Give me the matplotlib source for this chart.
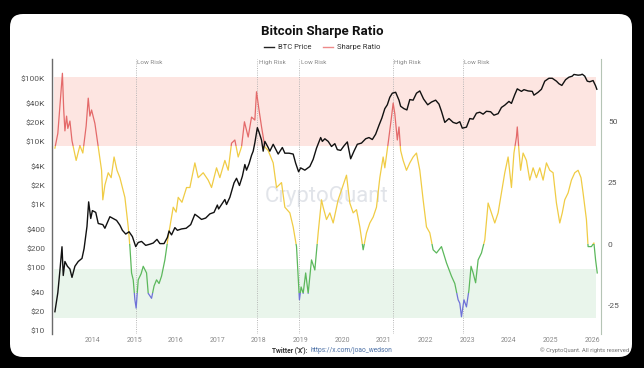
import matplotlib
matplotlib.use("Agg")
import matplotlib.pyplot as plt
from matplotlib.patches import FancyBboxPatch, Rectangle
from matplotlib.lines import Line2D
from matplotlib.text import Annotation

# ---------------- data (decimal years) ----------------
price_t = [2013.10, 2013.17, 2013.22, 2013.27, 2013.30, 2013.34, 2013.40, 2013.46, 2013.51, 2013.58,
           2013.66, 2013.75, 2013.80, 2013.87, 2013.91, 2013.96, 2014.00, 2014.08, 2014.14, 2014.25,
           2014.30, 2014.42, 2014.50, 2014.58, 2014.66, 2014.72, 2014.80, 2014.88, 2014.96, 2015.04,
           2015.10, 2015.18, 2015.28, 2015.38, 2015.46, 2015.55, 2015.62, 2015.72, 2015.80, 2015.84,
           2015.90, 2015.98, 2016.04, 2016.14, 2016.25, 2016.36, 2016.46, 2016.54, 2016.62, 2016.72,
           2016.82, 2016.92, 2017.00, 2017.03, 2017.10, 2017.18, 2017.22, 2017.30, 2017.40, 2017.46,
           2017.53, 2017.60, 2017.66, 2017.70, 2017.76, 2017.82, 2017.86, 2017.90, 2017.96, 2018.00,
           2018.06, 2018.10, 2018.14, 2018.22, 2018.26, 2018.34, 2018.40, 2018.46, 2018.56, 2018.62,
           2018.72, 2018.82, 2018.88, 2018.95, 2019.00, 2019.10, 2019.22, 2019.30, 2019.38, 2019.48,
           2019.52, 2019.58, 2019.66, 2019.74, 2019.82, 2019.88, 2019.96, 2020.04, 2020.12, 2020.20,
           2020.28, 2020.36, 2020.46, 2020.56, 2020.64, 2020.72, 2020.80, 2020.88, 2020.95, 2021.02,
           2021.08, 2021.14, 2021.20, 2021.28, 2021.36, 2021.40, 2021.48, 2021.55, 2021.62, 2021.70,
           2021.78, 2021.86, 2021.95, 2022.05, 2022.14, 2022.24, 2022.32, 2022.38, 2022.46, 2022.56,
           2022.66, 2022.74, 2022.82, 2022.88, 2022.98, 2023.06, 2023.14, 2023.22, 2023.30, 2023.38,
           2023.46, 2023.56, 2023.64, 2023.74, 2023.82, 2023.90, 2024.00, 2024.06, 2024.14, 2024.20,
           2024.30, 2024.36, 2024.46, 2024.56, 2024.60, 2024.70, 2024.78, 2024.86, 2024.96, 2025.04,
           2025.14, 2025.20, 2025.27, 2025.36, 2025.44, 2025.52, 2025.56, 2025.66, 2025.72, 2025.76,
           2025.82, 2025.88, 2025.94, 2026.02, 2026.08, 2026.11]
price_v = [20, 40, 90, 214, 75, 125, 105, 95, 70, 105,
           125, 140, 200, 450, 1100, 600, 800, 750, 500, 480,
           420, 640, 600, 560, 470, 390, 340, 370, 310, 215,
           250, 260, 225, 235, 245, 280, 240, 240, 300, 380,
           330, 430, 390, 410, 420, 480, 700, 640, 580, 610,
           710, 750, 980, 850, 1000, 1200, 1000, 1300, 2200, 2600,
           2000, 2800, 4300, 3500, 4400, 6000, 7000, 9500, 16500, 14000,
           10500, 7000, 10000, 8000, 7000, 9000, 7500, 6300, 8000, 6500,
           6500, 6300, 4500, 3300, 3800, 3500, 4000, 5200, 7800, 11500,
           10000, 11000, 10000, 8300, 9200, 7400, 7200, 8500, 9800, 5300,
           7000, 9000, 9400, 11000, 11500, 10700, 13000, 18000, 23500, 33000,
           38000, 50000, 58000, 60000, 45000, 36000, 33000, 31500, 46000, 45000,
           58000, 63000, 47000, 38000, 42000, 45000, 39000, 30000, 20000, 23000,
           20000, 19200, 20500, 16200, 16800, 23000, 22500, 28000, 29000, 27000,
           30000, 29500, 26000, 27500, 34500, 37500, 43000, 40000, 55000, 68000,
           62000, 66000, 63000, 62000, 54000, 60000, 67000, 90000, 100000, 100000,
           90000, 82000, 77000, 95000, 104000, 108000, 115000, 112000, 113000, 116000,
           108000, 90000, 88000, 92000, 76000, 67000]

sharpe_t = [2013.10, 2013.17, 2013.23, 2013.28, 2013.31, 2013.34, 2013.38, 2013.41, 2013.46, 2013.51,
            2013.61, 2013.70, 2013.77, 2013.85, 2013.90, 2013.94, 2013.98, 2014.06, 2014.14, 2014.22,
            2014.25, 2014.30, 2014.38, 2014.45, 2014.52, 2014.59, 2014.66, 2014.78, 2014.86, 2014.90,
            2014.94, 2014.98, 2015.02, 2015.05, 2015.10, 2015.17, 2015.22, 2015.30, 2015.34, 2015.42,
            2015.48, 2015.54, 2015.60, 2015.66, 2015.74, 2015.82, 2015.89, 2015.94, 2016.01, 2016.06,
            2016.15, 2016.26, 2016.34, 2016.40, 2016.46, 2016.54, 2016.66, 2016.78, 2016.86, 2016.98,
            2017.06, 2017.18, 2017.26, 2017.34, 2017.42, 2017.50, 2017.58, 2017.65, 2017.74, 2017.82,
            2017.90, 2017.94, 2018.00, 2018.06, 2018.14, 2018.22, 2018.34, 2018.42, 2018.54, 2018.62,
            2018.74, 2018.82, 2018.90, 2018.93, 2018.97, 2019.01, 2019.06, 2019.12, 2019.18, 2019.26,
            2019.34, 2019.42, 2019.50, 2019.54, 2019.62, 2019.70, 2019.78, 2019.90, 2019.98, 2020.10,
            2020.18, 2020.26, 2020.34, 2020.42, 2020.50, 2020.58, 2020.66, 2020.74, 2020.82, 2020.90,
            2020.98, 2021.02, 2021.10, 2021.18, 2021.22, 2021.26, 2021.32, 2021.36, 2021.40, 2021.46,
            2021.54, 2021.62, 2021.70, 2021.78, 2021.86, 2021.94, 2022.02, 2022.10, 2022.18, 2022.26,
            2022.38, 2022.50, 2022.62, 2022.70, 2022.78, 2022.82, 2022.86, 2022.92, 2022.98, 2023.04,
            2023.09, 2023.14, 2023.20, 2023.26, 2023.34, 2023.42, 2023.50, 2023.58, 2023.66, 2023.74,
            2023.82, 2023.90, 2023.98, 2024.06, 2024.12, 2024.18, 2024.20, 2024.24, 2024.28, 2024.34,
            2024.42, 2024.50, 2024.58, 2024.66, 2024.74, 2024.82, 2024.90, 2024.98, 2025.06, 2025.14,
            2025.22, 2025.28, 2025.34, 2025.42, 2025.50, 2025.58, 2025.66, 2025.73, 2025.78, 2025.86,
            2025.90, 2025.98, 2026.04, 2026.08, 2026.12]
sharpe_v = [39, 45, 58, 69.4, 55, 46, 52, 47, 50, 42,
            34, 40, 37, 48, 59.3, 52, 54.5, 49, 39.5, 30,
            18, 24, 29, 27, 35.4, 30, 27, 19, 7, -1,
            -11.7, -14.5, -22.6, -26, -14.5, -12, -9, -11.7, -20, -22,
            -17, -14.5, -16, -13, -6.4, 3, 10, 15, 13, 19,
            17, 23, 23, 28, 33, 27, 29, 26, 23, 31,
            27, 34, 30, 41, 42.3, 35.4, 39.5, 49.7, 43.5, 51.6,
            50.4, 61.9, 54.5, 47.7, 39.5, 38, 33, 23, 25, 15,
            12.7, 7, -1, -10.5, -22.6, -17.4, -20, -11.7, -20, -6.4,
            -10.5, 4.6, 18, 15, 10, 12.7, 8.6, 18, 22, 28,
            16.7, 12.7, 14, 7, -2.3, 4.6, 8.6, 11, 15, 27,
            35.4, 31, 41, 51.6, 57.3, 53, 42.3, 47.6, 38, 34,
            30, 33, 35.4, 37, 30, 18, 7, 4.6, -2.3, -3.6,
            -1, -7.6, -13, -16, -22.6, -24, -29.5, -22.6, -25.5, -18.6,
            -9, -11.7, -15.7, -6.4, -3.6, 1.7, 16.7, 12.7, 8.6, 12.7,
            20.8, 29, 35.4, 23, 37, 43.5, 47.6, 38, 30, 37,
            34, 26, 31, 27, 31, 26, 33, 30, 29, 16.7,
            8.6, 12.7, 18, 20.8, 26, 29, 30, 27, 20.8, 10,
            -1, -1, 0.5, -6.4, -11.7]

year_ticks = list(range(2014, 2027))
price_ticks = [10, 20, 40, 100, 200, 400, 1000, 2000, 4000, 10000, 20000, 40000, 100000]
price_tick_labels = ['$10', '$20', '$40', '$100', '$200', '$400', '$1K', '$2K', '$4K',
                     '$10K', '$20K', '$40K', '$100K']
sharpe_ticks = [-25, 0, 25, 50]
risk_t = [2015.04, 2017.96, 2018.97, 2021.22, 2022.90]
risk_labels = ['Low Risk', 'High Risk', 'Low Risk', 'High Risk', 'Low Risk']
high_band = (40, 68)
low_band = (-30, -10)
zone_limits = [(40, 200, '#e46a6a'), (0, 40, '#f0cc45'), (-20, 0, '#5cb85c'), (-200, -20, '#6f72d8')]

# ---------------- figure ----------------
W, H = 644, 368
fig = plt.figure(figsize=(W / 100, H / 100), dpi=100, facecolor='black')
card = FancyBboxPatch((10 / 100, 11 / 100), 622 / 100, 343 / 100,
                      boxstyle='round,pad=0,rounding_size=0.13',
                      transform=fig.dpi_scale_trans, facecolor='white', edgecolor='none',
                      zorder=-5)
fig.patches.append(card)

L, R, T, B = 52, 601, 59, 334
ax_s = fig.add_axes([L / W, (H - B) / H, (R - L) / W, (B - T) / H])
ax_s.set_facecolor('none')
ax_p = ax_s.twinx()
ax_p.set_facecolor('none')

x0, x1 = 2013.03, 2026.21
ax_s.set_xlim(x0, x1)
ax_s.set_ylim(-36.5, 75.2)
ax_p.set_yscale('log')
ax_p.set_ylim(8.87, 202000)

# bands
band_x0, band_x1 = 2013.08, 2026.10
ax_s.add_patch(Rectangle((band_x0, high_band[0]), band_x1 - band_x0, high_band[1] - high_band[0],
                         facecolor='#fde5e1', edgecolor='none', zorder=0))
ax_s.add_patch(Rectangle((band_x0, low_band[0]), band_x1 - band_x0, low_band[1] - low_band[0],
                         facecolor='#e9f5eb', edgecolor='none', zorder=0))

# risk lines
for t, lab in zip(risk_t, risk_labels):
    ax_s.axvline(t, color='#b0b0b0', lw=0.6, ls=(0, (1.2, 1.5)), zorder=1)
    ax_s.text(t + 0.03, 0.997, lab, transform=ax_s.get_xaxis_transform(), fontsize=4.6,
              color='#8a8a8a', va='top', ha='left', family='Roboto')

# sharpe line coloured by zone via clipping
for lo, hi, col in zone_limits:
    ln, = ax_s.plot(sharpe_t, sharpe_v, color=col, lw=0.9, zorder=2, solid_joinstyle='round')
    clip = Rectangle((x0 - 1, lo), x1 - x0 + 2, hi - lo, transform=ax_s.transData)
    ln.set_clip_path(clip)

# price line
ax_p.plot(price_t, price_v, color='#111111', lw=1.0, zorder=3, solid_joinstyle='round')

# watermark
ax_s.text(0.5, 0.50, 'CryptoQuant', transform=ax_s.transAxes, fontsize=16, color='#c9ced8',
          alpha=0.55, ha='center', va='center', family='Roboto', zorder=1)

# axes styling
ax_s.set_xticks(year_ticks)
ax_s.set_xticklabels([str(y) for y in year_ticks])
ax_s.yaxis.tick_right()
ax_s.set_yticks(sharpe_ticks)
ax_s.set_yticklabels([str(v) for v in sharpe_ticks])
ax_p.yaxis.tick_left()
ax_p.set_yticks(price_ticks)
ax_p.set_yticklabels(price_tick_labels)
ax_p.yaxis.set_minor_locator(matplotlib.ticker.NullLocator())

ax_s.tick_params(axis='x', length=0, pad=2, labelsize=5, labelcolor='#8a8a8a')
ax_s.tick_params(axis='y', length=0, pad=5, labelsize=6, labelcolor='#555555')
ax_p.tick_params(axis='y', length=0, pad=5, labelsize=6, labelcolor='#555555')
for a in (ax_s, ax_p):
    for lab in a.get_xticklabels() + a.get_yticklabels():
        lab.set_family('Roboto')
    a.spines['top'].set_visible(False)
    a.spines['bottom'].set_visible(False)
ax_p.spines['left'].set_color('#6a6a6a')
ax_p.spines['left'].set_linewidth(1.0)
ax_p.spines['right'].set_color('#b5c4b5')
ax_p.spines['right'].set_linewidth(0.8)
ax_s.spines['left'].set_visible(False)
ax_s.spines['right'].set_visible(False)

# title & legend
fig.text(0.5, (H - 31) / H, 'Bitcoin Sharpe Ratio', ha='center', va='center', fontsize=9.5,
         fontweight='bold', family='Roboto', color='#111111')
handles = [Line2D([], [], color='#222222', lw=1.0), Line2D([], [], color='#ee8a8a', lw=1.0)]
leg = fig.legend(handles, ['BTC Price', 'Sharpe Ratio'], loc='center', bbox_to_anchor=(0.5, (H - 47) / H),
                 ncol=2, frameon=False, handlelength=1.3, handletextpad=0.5,
                 columnspacing=1.5, prop={'family': 'Roboto', 'size': 5.5})
for t in leg.get_texts():
    t.set_color('#333333')

# footer
fy = (H - 352) / H
t1 = fig.text(272 / W, fy, "Twitter ('X'):", ha='left', va='baseline', fontsize=4.8,
              family='Roboto', color='#333333', fontweight='bold')
link = Annotation("https://x.com/joao_wedson", xy=(1, 0), xycoords=t1, xytext=(2.5, 0),
                  textcoords='offset points', ha='left', va='bottom', fontsize=4.8,
                  family='Roboto', color='#4a6fa5')
fig.add_artist(link)
fig.text(629 / W, fy, '\u00a9 CryptoQuant. All rights reserved', ha='right', va='baseline',
         fontsize=4.2, family='Roboto', color='#777777')

fig.savefig('out.png', dpi=100, facecolor='black')
